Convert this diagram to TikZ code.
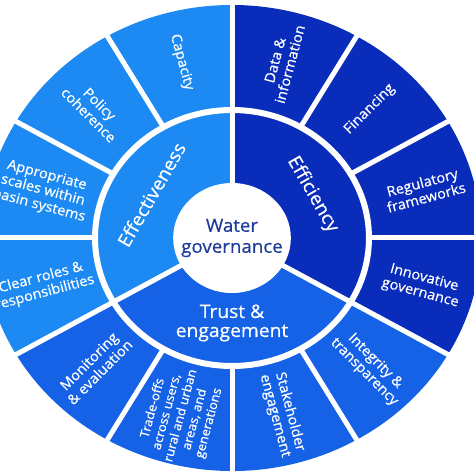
\documentclass[tikz,border=0pt]{standalone}
\usepackage{fontspec}
\setmainfont{Open Sans}[FakeBold=0.6, FakeStretch=1.04]
\definecolor{effc}{HTML}{1C8AF2}
\definecolor{efic}{HTML}{0A2CBA}
\definecolor{trc}{HTML}{1562E6}
\definecolor{navy}{HTML}{1F3C9C}
\begin{document}
\begin{tikzpicture}[x=1pt,y=1pt,
  outerlab/.style={text=white, align=center, inner sep=0pt, font=\fontsize{14}{15.5}\selectfont},
  smalllab/.style={text=white, align=center, inner sep=0pt, font=\fontsize{12.5}{14.5}\selectfont},
  midlab/.style={text=white, align=center, inner sep=0pt, font=\fontsize{18.5}{19}\selectfont},
  centerlab/.style={text=navy, align=center, inner sep=0pt, font=\fontsize{18}{21}\selectfont},
  gapline/.style={white, line width=5pt}]
\useasboundingbox (0,0) rectangle (474,474);
\clip (0,0) rectangle (474,474);
\begin{scope}[shift={(232,236)}, xscale=1.07]
  % group sectors
  \fill[effc] (0,0) -- (90:233) arc[start angle=90, end angle=210, radius=233] -- cycle;
  \fill[trc] (0,0) -- (210:233) arc[start angle=210, end angle=330, radius=233] -- cycle;
  \fill[efic] (0,0) -- (330:233) arc[start angle=-30, end angle=90, radius=233] -- cycle;
  % gaps
  \draw[white, line width=6pt] (0,0) circle[radius=128];
  \foreach \a in {0,30,...,330} {\draw[gapline] (\a:128) -- (\a:240);}
  \foreach \a in {90,210,330} {\draw[gapline] (0,0) -- (\a:128);}
  \fill[white] (0,0) circle[radius=55];
  % center
  \node[centerlab] (wg) at (0,0) {Water\\governance};
  % middle ring
  \node[midlab, rotate=60] (eff) at (150:87) {Effectiveness};
  \node[midlab, rotate=-60] (efi) at (30:87) {Efficiency};
  \node[midlab] (tr) at (270:85) {Trust \&\\engagement};
  % outer ring
  \node[outerlab, rotate=-75] (cap) at (105:182) {Capacity};
  \node[outerlab, rotate=-45] (pol) at (135:182) {Policy\\coherence};
  \node[outerlab, rotate=-15] (app) at (165:183) {Appropriate\\scales within\\basin systems};
  \node[outerlab, rotate=15] (clr) at (195:183) {Clear roles \&\\responsibilities};
  \node[outerlab, rotate=45] (mon) at (225:182) {Monitoring\\\& evaluation};
  \node[smalllab, rotate=75] (tra) at (255:184) {Trade-offs\\across users,\\rural and urban\\areas, and\\generations};
  \node[outerlab, rotate=-75] (stk) at (285:182) {Stakeholder\\engagement};
  \node[outerlab, rotate=-45] (int) at (315:182) {Integrity \&\\transparency};
  \node[outerlab, rotate=-15] (inn) at (345:184) {Innovative\\governance};
  \node[outerlab, rotate=15] (reg) at (15:186) {Regulatory\\frameworks};
  \node[outerlab, rotate=45] (fin) at (45:182) {Financing};
  \node[outerlab, rotate=75] (dat) at (75:182) {Data \&\\information};
\end{scope}
\end{tikzpicture}
\end{document}
